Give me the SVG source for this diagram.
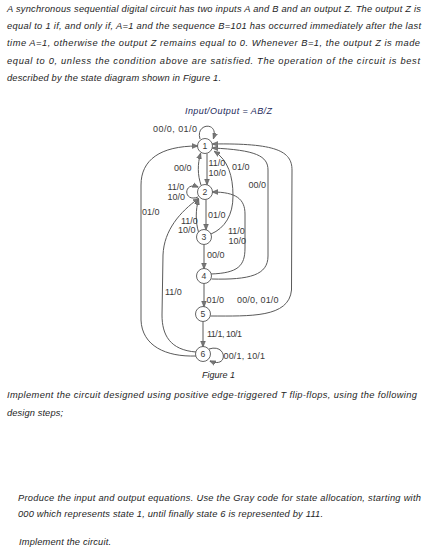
<svg xmlns="http://www.w3.org/2000/svg" width="432" height="549" viewBox="0 0 432 549">
<style>
.p{font-family:"Liberation Sans",Arial,sans-serif;font-style:italic;font-size:9.3px;fill:#1e1e1e}
.t{font-family:"Liberation Sans",Arial,sans-serif;font-style:italic;font-size:9px;fill:#22285a}
.l{font-family:"Liberation Sans",Arial,sans-serif;font-size:9px;fill:#3a3a3a}
.n{font-family:"Liberation Sans",Arial,sans-serif;font-size:8.6px;fill:#3a3a3a;text-anchor:middle}
.c{fill:#fff;stroke:#555;stroke-width:0.9}
.e{fill:none;stroke:#5a5a5a;stroke-width:1;marker-end:url(#ah)}
</style>
<defs>
<marker id="ah" viewBox="0 0 10 10" refX="9" refY="5" markerWidth="6" markerHeight="6" orient="auto" markerUnits="userSpaceOnUse">
<path d="M0,1 L10,5 L0,9 z" fill="#777" stroke="#555" stroke-width="0.8"/>
</marker>
</defs>
<rect width="432" height="549" fill="#fff"/>

<text class="p" x="7" y="11.5" textLength="414" lengthAdjust="spacing">A synchronous sequential digital circuit has two inputs A and B and an output Z. The output Z is</text>
<text class="p" x="7" y="29" textLength="414" lengthAdjust="spacing">equal to 1 if, and only if, A=1 and the sequence B=101 has occurred immediately after the last</text>
<text class="p" x="7" y="46.4" textLength="413" lengthAdjust="spacing">time A=1, otherwise the output Z remains equal to 0. Whenever B=1, the output Z is made</text>
<text class="p" x="7" y="63.8" textLength="413" lengthAdjust="spacing">equal to 0, unless the condition above are satisfied. The operation of the circuit is best</text>
<text class="p" x="7" y="81.2" textLength="214" lengthAdjust="spacing">described by the state diagram shown in Figure 1.</text>

<text class="t" x="185" y="114" textLength="87" lengthAdjust="spacing">Input/Output = AB/Z</text>

<g id="connectors">
<path class="e" d="M200,139 C195,123 219,121 213.5,138.5"/>
<path class="e" d="M207,153.5 L207,184.5"/>
<path class="e" d="M201,185 C197.5,175 197.5,164 200.5,153.5"/>
<path class="e" d="M198,197 C183,203 183,181 198,187"/>
<path class="e" d="M206,199.5 L206,229.5"/>
<path class="e" d="M198.5,232 C195.5,222 195.5,210 198.5,199.5"/>
<path class="e" d="M211,234 C225,228 233,215 233,196 C233,176 228,160 214.5,151.5"/>
<path class="e" d="M204,244.5 L204,268.5"/>
<path class="e" d="M211,274 C238,273 245,266 245,248 L245,214 C245,199 236,192 212.5,192"/>
<path class="e" d="M211.5,279 C250,280 268,275 268,256 L268,170 C268,156 256,150 212.5,148"/>
<path class="e" d="M210.5,316 C250,316 289,318 291.5,290 L292,170 C292,151 276,143 212.5,144"/>
<path class="e" d="M204,283.5 L204,306.5"/>
<path class="e" d="M203,321.5 L203,346.5"/>
<path class="e" d="M209,349 C227,343 229,369 210,361"/>
<path class="e" d="M196,356 C166,357 142,346 141,320 L141,185 C141,160 160,146 197.5,146"/>
<path class="e" d="M196,352 C170,350 162,335 162,315 L163,255 C164,230 180,212 198.5,198.5"/>
</g>

<g id="labels">
<text class="l" x="153" y="132" textLength="44" lengthAdjust="spacing">00/0, 01/0</text>
<text class="l" x="208.5" y="166">11/0</text>
<text class="l" x="208.5" y="175.5">10/0</text>
<text class="l" x="174" y="171">00/0</text>
<text class="l" x="232" y="170">01/0</text>
<text class="l" x="248.5" y="188">00/0</text>
<text class="l" x="167.5" y="190">11/0</text>
<text class="l" x="167.5" y="199.5">10/0</text>
<text class="l" x="142" y="215">01/0</text>
<text class="l" x="208" y="217.5">01/0</text>
<text class="l" x="181" y="223.5">11/0</text>
<text class="l" x="178" y="233">10/0</text>
<text class="l" x="228" y="233.5">11/0</text>
<text class="l" x="228.5" y="244">10/0</text>
<text class="l" x="207" y="257.5">00/0</text>
<text class="l" x="165" y="294.5">11/0</text>
<text class="l" x="206.5" y="303">01/0</text>
<text class="l" x="237" y="303" textLength="41.5" lengthAdjust="spacing">00/0, 01/0</text>
<text class="l" x="207" y="336.5" textLength="35" lengthAdjust="spacing">11/1, 10/1</text>
<text class="l" x="223.5" y="359" textLength="41.5" lengthAdjust="spacing">00/1, 10/1</text>
</g>

<g id="node1"><circle class="c" cx="205" cy="146" r="7.5"/><text class="n" x="205" y="149">1</text></g>
<g id="node2"><circle class="c" cx="205" cy="192" r="7.5"/><text class="n" x="205" y="195">2</text></g>
<g id="node3"><circle class="c" cx="204" cy="237" r="7.5"/><text class="n" x="204" y="240">3</text></g>
<g id="node4"><circle class="c" cx="204" cy="276" r="7.5"/><text class="n" x="204" y="279">4</text></g>
<g id="node5"><circle class="c" cx="203" cy="314" r="7.5"/><text class="n" x="203" y="317">5</text></g>
<g id="node6"><circle class="c" cx="203" cy="354" r="7.5"/><text class="n" x="203" y="357">6</text></g>

<text class="p" x="202" y="377.5" style="font-size:9px">Figure 1</text>
<text class="p" x="7" y="398.3" textLength="410" lengthAdjust="spacing">Implement the circuit designed using positive edge-triggered T flip-flops, using the following</text>
<text class="p" x="7" y="415.7" textLength="56" lengthAdjust="spacing">design steps;</text>
<text class="p" x="18" y="500.7" textLength="403" lengthAdjust="spacing">Produce the input and output equations. Use the Gray code for state allocation, starting with</text>
<text class="p" x="18" y="516.7" textLength="305" lengthAdjust="spacing">000 which represents state 1, until finally state 6 is represented by 111.</text>
<text class="p" x="19" y="545" textLength="92" lengthAdjust="spacing">Implement the circuit.</text>
</svg>
